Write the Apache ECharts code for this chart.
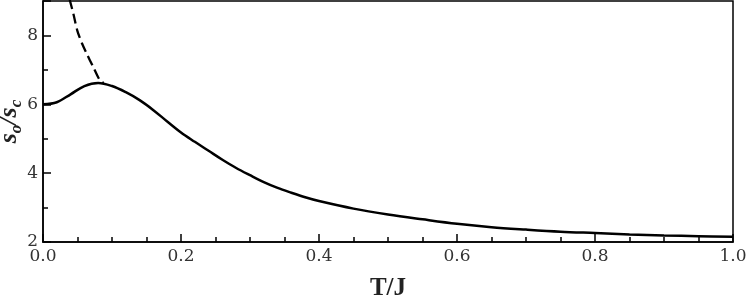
<!DOCTYPE html>
<html><head><meta charset="utf-8">
<script src="https://cdn.jsdelivr.net/npm/echarts@6/dist/echarts.min.js"></script>
<style>html,body{margin:0;padding:0;background:#fff}#c{width:747px;height:302px}</style>
</head><body><div id="c"></div>
<script>
// Solid curve s_o/s_c vs T/J
const solidT = [0,0.02,0.04,0.06,0.08,0.10,0.12,0.14,0.16,0.18,0.20,0.22,0.24,0.26,0.28,0.30,0.32,0.34,0.36,0.38,0.40,0.45,0.50,0.55,0.60,0.65,0.70,0.75,0.80,0.85,0.90,0.95,1.00];
const solidS = [6.00,6.06,6.29,6.53,6.62,6.53,6.35,6.12,5.83,5.50,5.18,4.91,4.65,4.39,4.15,3.94,3.74,3.57,3.43,3.30,3.19,2.97,2.80,2.66,2.53,2.43,2.36,2.30,2.26,2.22,2.19,2.17,2.15];
// Dashed branch
const dashT = [0.0385,0.044,0.0497,0.0563,0.0633,0.0729,0.0826,0.088];
const dashS = [9.05,8.63,8.14,7.78,7.47,7.08,6.69,6.62];
const xTicks = [0,0.2,0.4,0.6,0.8,1.0];
const yTicks = [2,4,6,8];

const chart = echarts.init(document.getElementById('c'));
const font = 'DejaVu Serif';
const nameFont = 'Liberation Serif';
chart.setOption({
  animation: false,
  grid: {left: 43, right: 14, top: 1, bottom: 60, containLabel: false, outerBoundsMode: 'none',
    show: true, borderColor: '#000', borderWidth: 1.5, backgroundColor: 'transparent'},
  xAxis: {
    type: 'value', min: 0, max: 1, interval: 0.2,
    name: 'T/J', nameLocation: 'middle', nameGap: 34, nameMoveOverlap: false,
    nameTextStyle: {fontFamily: nameFont, fontWeight: 'bold', fontSize: 25, color: '#222'},
    axisLine: {lineStyle: {color: '#000', width: 1.5}},
    axisTick: {inside: true, length: 8, lineStyle: {color: '#000', width: 1.5}},
    minorTick: {show: true, splitNumber: 4, length: 5, lineStyle: {color: '#000', width: 1.5}},
    splitLine: {show: false},
    axisLabel: {fontFamily: font, fontSize: 17, color: '#333', margin: 6,
      formatter: v => xTicks.some(t => Math.abs(t - v) < 1e-9) ? v.toFixed(1) : ''}
  },
  yAxis: [{
    type: 'value', min: 2, max: 9, interval: 2,
    name: '{s|s}{b|o}{s|/s}{b|c}', nameLocation: 'middle', nameGap: 21, nameRotate: 90, nameMoveOverlap: false,
    nameTextStyle: {rich: {
      s: {fontFamily: nameFont, fontWeight: 'bold', fontStyle: 'italic', fontSize: 26, color: '#222', verticalAlign: 'bottom', lineHeight: 22},
      b: {fontFamily: nameFont, fontWeight: 'bold', fontStyle: 'italic', fontSize: 17, color: '#222', verticalAlign: 'bottom', lineHeight: 22, padding: [0,0,-3,0]}
    }},
    axisLine: {lineStyle: {color: '#000', width: 1.5}},
    axisTick: {inside: true, length: 8, lineStyle: {color: '#000', width: 1.5}},
    splitLine: {show: false},
    axisLabel: {fontFamily: font, fontSize: 17, color: '#333', margin: 5,
      formatter: v => yTicks.indexOf(v) >= 0 ? String(v) : ''}
  }, {
    type: 'value', min: 2, max: 9, interval: 1, position: 'left',
    axisLine: {show: false},
    axisTick: {inside: true, length: 5, lineStyle: {color: '#000', width: 1.5}},
    splitLine: {show: false}, axisLabel: {show: false}
  }],
  series: [{
    type: 'line', showSymbol: false, smooth: 0.35, yAxisIndex: 0,
    data: solidT.map((t, i) => [t, solidS[i]]),
    lineStyle: {color: '#000', width: 2.5}
  }, {
    type: 'line', showSymbol: false, smooth: 0.3, yAxisIndex: 0,
    data: dashT.map((t, i) => [t, dashS[i]]),
    lineStyle: {color: '#000', width: 2.3, type: [10, 5]}
  }]
});
</script></body></html>
